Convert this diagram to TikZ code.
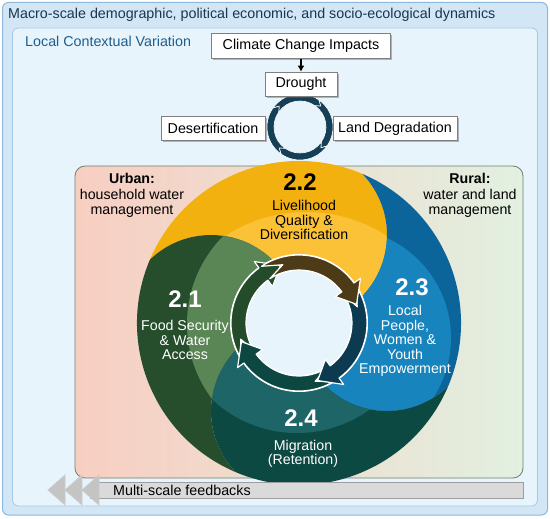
\documentclass[tikz,border=0pt]{standalone}
\usepackage{fontspec}
\setmainfont{Liberation Sans}
\usetikzlibrary{shadows,arrows.meta}
\definecolor{outerfill}{HTML}{D3E6F5}
\definecolor{outerline}{HTML}{8FB9DC}
\definecolor{innerfill}{HTML}{E8F4FC}
\definecolor{innerline}{HTML}{A5C9E4}
\definecolor{titlec}{HTML}{1A3550}
\definecolor{localc}{HTML}{1D5E8E}
\definecolor{pinkbg}{HTML}{F8CEC2}
\definecolor{midbg}{HTML}{EFEFF1}
\definecolor{greenbg}{HTML}{E2F0E0}
\definecolor{boxline}{HTML}{6F806F}
\definecolor{yelD}{HTML}{F3B10F}
\definecolor{yelL}{HTML}{FBC237}
\definecolor{bluD}{HTML}{0B659B}
\definecolor{bluL}{HTML}{1784BE}
\definecolor{tealD}{HTML}{0D4943}
\definecolor{tealL}{HTML}{1E6567}
\definecolor{grnD}{HTML}{264E2C}
\definecolor{grnL}{HTML}{5A8656}
\definecolor{arrBrown}{HTML}{4D3A16}
\definecolor{arrNavy}{HTML}{0C3A50}
\definecolor{arrTeal}{HTML}{0D4741}
\definecolor{arrGreen}{HTML}{244B2A}
\definecolor{ringc}{HTML}{143F56}
\definecolor{bargray}{HTML}{DADADA}
\definecolor{barline}{HTML}{9E9E9E}
\definecolor{chevgray}{HTML}{C4C4C4}
\newcommand{\regY}{(157:162) arc[start angle=157,end angle=67,radius=162] arc[start angle=44,end angle=-90,radius=88] arc[start angle=0,end angle=134,radius=88] -- cycle}
\newcommand{\regB}{(67:162) arc[start angle=67,end angle=-23,radius=162] arc[start angle=-46,end angle=-180,radius=88] arc[start angle=-90,end angle=44,radius=88] -- cycle}
\newcommand{\regT}{(-23:162) arc[start angle=-23,end angle=-113,radius=162] arc[start angle=-136,end angle=-270,radius=88] arc[start angle=-180,end angle=-46,radius=88] -- cycle}
\newcommand{\regG}{(-113:162) arc[start angle=-113,end angle=-203,radius=162] arc[start angle=-226,end angle=-360,radius=88] arc[start angle=-270,end angle=-136,radius=88] -- cycle}
% T, B, H, N
\newcommand{\ringarrow}[4]{(#1:68) arc[start angle=#1,end angle=#2,radius=68] -- (#2:76) -- (#3:60.5) -- (#2:45) -- (#2:53) arc[start angle=#2,end angle=#1,radius=53] -- (#4:60.5) -- cycle}
\newcommand{\smallarrow}[4]{(#1:33) arc[start angle=#1,end angle=#2,radius=33] -- (#3:29.5) -- (#2:26) arc[start angle=#2,end angle=#1,radius=26] -- (#4:29.5) -- cycle}
\tikzset{
  tbox/.style={draw=black!50, fill=white, line width=0.7pt, inner sep=0pt, minimum height=24pt,
    drop shadow={shadow xshift=1.8pt, shadow yshift=-1.8pt, opacity=0.45, fill=black!60}},
  lbl/.style={align=center, font=\fontsize{14.2}{14.5}\selectfont, inner sep=0pt},
  num/.style={font=\bfseries\fontsize{24}{24}\selectfont, inner sep=0pt},
  sidetxt/.style={align=center, font=\fontsize{14.2}{15.8}\selectfont, inner sep=0pt},
  chev/.style={fill=chevgray, draw=white!80!black, line width=0.8pt},
  bigarrow/.style={draw=white, line width=1.2pt, line join=round},
  smallseg/.style={fill=ringc, draw=white, line width=0.6pt, line join=round}
}
\begin{document}
\begin{tikzpicture}[x=1pt,y=-1pt, font=\fontsize{14.3}{16}\selectfont]
\useasboundingbox (0,0) rectangle (550,519);
% outer and inner frames
\draw[draw=outerline, fill=outerfill, rounded corners=6, line width=1pt] (2.5,2.5) rectangle (547.5,515);
\node[anchor=west, text=titlec, inner sep=0pt] (title) at (8,15) {Macro-scale demographic, political economic, and socio-ecological dynamics};
\draw[draw=innerline, fill=innerfill, rounded corners=6, line width=0.8pt] (12.5,28) rectangle (537.5,506);
\node[anchor=west, text=localc, inner sep=0pt] (local) at (25,41) {Local Contextual Variation};
% urban / rural box
\shade[left color=pinkbg, middle color=midbg, right color=greenbg, rounded corners=10] (75,166) rectangle (523,478);
\draw[draw=boxline, rounded corners=10, line width=0.8pt] (75,166) rectangle (523,478);
\node[sidetxt] (urban) at (132,195.5) {\textbf{Urban:}\\household water\\management};
\node[sidetxt] (rural) at (470,195.5) {\textbf{Rural:}\\water and land\\management};
% swirl disk
\begin{scope}[shift={(299,323)}, yscale=-1]
  \fill[yelD] \regY;
  \begin{scope} \clip \regY; \fill[yelL] (7,-37) circle[radius=148]; \end{scope}
  \fill[bluD] \regB;
  \begin{scope} \clip \regB; \fill[bluL] (42,-15) circle[radius=110]; \end{scope}
  \fill[tealD] \regT;
  \begin{scope} \clip \regT; \fill[tealL] (-2,14) circle[radius=124]; \end{scope}
  \fill[grnD] \regG;
  \begin{scope} \clip \regG; \fill[grnL] (13,-1) circle[radius=125]; \end{scope}
  % central arrow ring
  \fill[white] (0,0) circle[radius=69];
  \fill[innerfill] (0,0) circle[radius=52];
  \filldraw[bigarrow, fill=arrGreen] \ringarrow{210.5}{126}{108}{195.5};
  \filldraw[bigarrow, fill=arrTeal] \ringarrow{-59.5}{-144}{-162}{-74.5};
  \filldraw[bigarrow, fill=arrNavy] \ringarrow{33.5}{-54}{-72}{15.5};
  \filldraw[bigarrow, fill=arrBrown] \ringarrow{123.5}{36}{18}{105.5};
\end{scope}
% small cycle ring
\begin{scope}[shift={(300,127)}, yscale=-1]
  \filldraw[smallseg] \smallarrow{145}{55}{45}{135};
  \filldraw[smallseg] \smallarrow{55}{-35}{-45}{45};
  \filldraw[smallseg] \smallarrow{-35}{-125}{-135}{-45};
  \filldraw[smallseg] \smallarrow{-125}{-215}{-225}{-135};
\end{scope}
% top boxes
\node[tbox, minimum width=179pt, minimum height=25pt] (climate) at (301,46) {Climate Change Impacts};
\node[tbox, minimum width=72pt] (drought) at (301,84) {Drought};
\node[tbox, minimum width=104pt] (desert) at (213,128.5) {Desertification};
\node[tbox, minimum width=124pt] (land) at (395,128.5) {Land Degradation};
\draw[-{Latex[length=6pt,width=7pt]}, line width=1.3pt] (climate) -- (drought);
% labels in swirl
\node[num] (n22) at (300,182) {2.2};
\node[lbl] (t22) at (304,220) {Livelihood\\Quality \&\\Diversification};
\node[num, text=white] (n21) at (185,299) {2.1};
\node[lbl, text=white] (t21) at (185,340) {Food Security\\\& Water\\Access};
\node[num, text=white] (n23) at (412,287) {2.3};
\node[lbl, text=white] (t23) at (405,341) {Local\\People,\\Women \&\\Youth\\Empowerment};
\node[num, text=white] (n24) at (301,418) {2.4};
\node[lbl, text=white] (t24) at (303,454) {Migration\\(Retention)};
% feedback bar
\draw[fill=bargray, draw=barline, line width=0.7pt] (90,482) rectangle (523,498);
\draw[chev] (48,490) -- (65,475) -- (65,505) -- cycle;
\draw[chev] (65,490) -- (82,475) -- (82,505) -- cycle;
\draw[chev] (82,490) -- (99,475) -- (99,505) -- cycle;
\node[anchor=west, inner sep=0pt] (feedback) at (113,490.5) {Multi-scale feedbacks};
\end{tikzpicture}
\end{document}
